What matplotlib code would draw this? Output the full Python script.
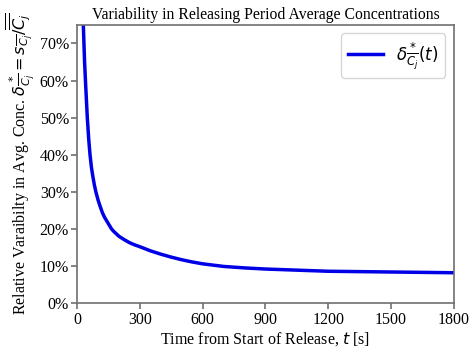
import matplotlib
matplotlib.use("Agg")
import matplotlib.pyplot as plt
from matplotlib.ticker import PercentFormatter

# values
time_s = [25, 29, 35, 40, 48, 55, 61, 68, 75, 82, 89, 100, 110, 120, 130,
          150, 164, 175, 200, 225, 250, 275, 300, 350, 400, 450, 500, 550,
          600, 700, 800, 900, 1000, 1100, 1200, 1350, 1500, 1650, 1800]
delta = [0.88, 0.75, 0.65, 0.59, 0.50, 0.44, 0.40, 0.365, 0.34, 0.318,
         0.30, 0.277, 0.26, 0.244, 0.232, 0.213, 0.20, 0.193, 0.180, 0.171,
         0.163, 0.157, 0.152, 0.141, 0.132, 0.124, 0.117, 0.111, 0.106,
         0.099, 0.095, 0.092, 0.090, 0.088, 0.086, 0.085, 0.084, 0.083,
         0.082]
xticks = [0, 300, 600, 900, 1200, 1500, 1800]
yticks = [0, 0.1, 0.2, 0.3, 0.4, 0.5, 0.6, 0.7]

plt.rcParams['font.family'] = ['Liberation Serif', 'DejaVu Serif']
plt.rcParams['mathtext.fontset'] = 'dejavusans'

fig = plt.figure(figsize=(4.74, 3.55), dpi=100)
ax = fig.add_axes([0.163, 0.146, 0.794, 0.784])

ax.plot(time_s, delta, color='#0000e6', lw=2.5,
        label=r'$\delta^*_{\overline{C_j}}(t)$')

ax.set_xlim(0, 1800)
ax.set_ylim(0, 0.75)
ax.set_xticks(xticks)
ax.set_yticks(yticks)
ax.yaxis.set_major_formatter(PercentFormatter(1.0, decimals=0))

for s in ax.spines.values():
    s.set_color('#707070')
    s.set_linewidth(1.2)
ax.tick_params(colors='#707070', labelcolor='black', labelsize=11.5,
               width=1.2, length=4, pad=2)

ax.set_title('Variability in Releasing Period Average Concentrations',
             fontsize=11.3, pad=4)
ax.set_xlabel(r'Time from Start of Release, $t$ [s]', fontsize=11.5, labelpad=2)
ax.set_ylabel(r'Relative Varaibilty in Avg. Conc. '
              r'$\delta^*_{\overline{C_j}} = s_{\overline{C_j}}/\overline{\overline{C_j}}$',
              fontsize=11.5, labelpad=2)

leg = ax.legend(loc='upper right', handlelength=2.1,
                prop={'family': 'DejaVu Sans', 'size': 12})

fig.savefig('out.png', dpi=100)
